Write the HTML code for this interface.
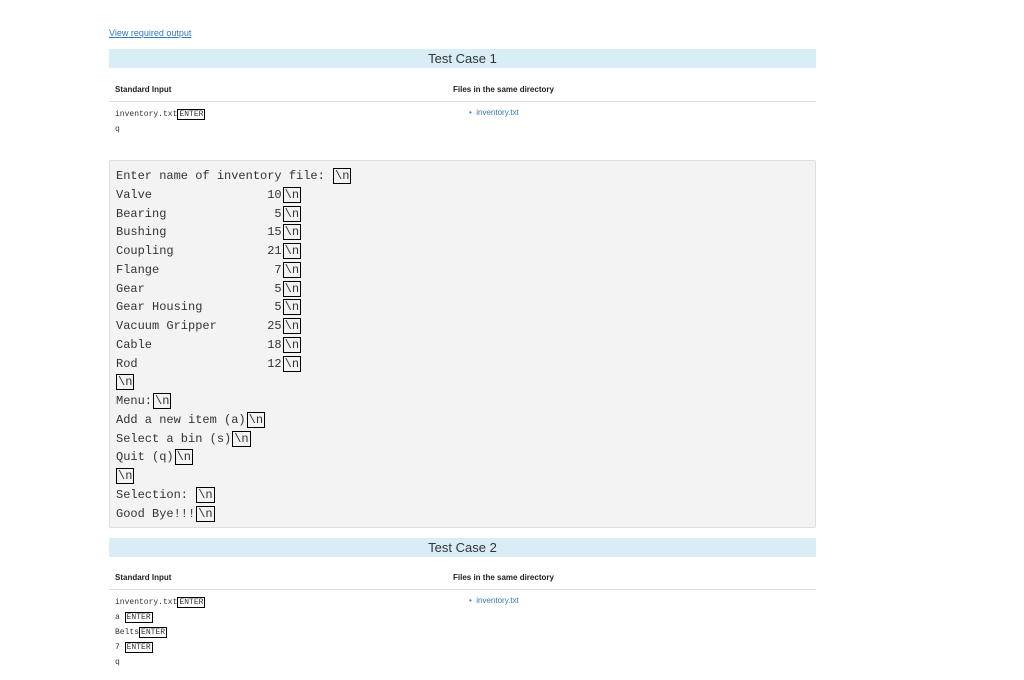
<!DOCTYPE html>
<html><head><meta charset="utf-8"><style>
body{margin:0;width:1024px;height:680px;background:#fff;position:relative;font-family:"Liberation Sans",Arial,sans-serif;overflow:hidden}
.a{position:absolute}
.link{left:109px;top:28px;font-size:9px;color:#337ab7;text-decoration:underline}
.hdr{left:109px;width:707px;height:19px;background:#d9edf7;font-size:13px;color:#333;text-align:center;line-height:19px}
.th{font-size:8px;font-weight:bold;color:#222}
.hr{left:109px;width:707px;height:1px;background:#ddd}
.in{font-family:"Liberation Mono",monospace;font-size:8px;color:#333;line-height:15px}
.k{border:1.3px solid #000;padding:0 1px;line-height:9px;display:inline-block}
.f{font-size:8px;color:#337ab7}
.out{left:109px;top:160px;width:705px;height:366px;background:#f3f3f3;border:1px solid #ddd;border-radius:2px}
pre{position:absolute;left:116px;top:167px;margin:0;font-family:"Liberation Mono",monospace;font-size:12px;line-height:18.75px;color:#333}
.n{border:1.5px solid #000;padding:0 1px;line-height:14px;display:inline-block;margin-left:1px}
</style></head><body>
<div class="a link">View required output</div>
<div class="a hdr" style="top:49px">Test Case 1</div>
<div class="a th" style="left:115px;top:85px">Standard Input</div>
<div class="a th" style="left:453px;top:85px">Files in the same directory</div>
<div class="a hr" style="top:101px"></div>
<div class="a in" style="left:115px;top:107px">inventory.txt<span class="k">ENTER</span><br>q</div>
<div class="a f" style="left:469px;top:108px">• &nbsp;inventory.txt</div>
<div class="a out"></div>
<pre>Enter name of inventory file: <span class="n">\n</span>
Valve                10<span class="n">\n</span>
Bearing               5<span class="n">\n</span>
Bushing              15<span class="n">\n</span>
Coupling             21<span class="n">\n</span>
Flange                7<span class="n">\n</span>
Gear                  5<span class="n">\n</span>
Gear Housing          5<span class="n">\n</span>
Vacuum Gripper       25<span class="n">\n</span>
Cable                18<span class="n">\n</span>
Rod                  12<span class="n">\n</span>
<span class="n" style="margin-left:0">\n</span>
Menu:<span class="n">\n</span>
Add a new item (a)<span class="n">\n</span>
Select a bin (s)<span class="n">\n</span>
Quit (q)<span class="n">\n</span>
<span class="n" style="margin-left:0">\n</span>
Selection: <span class="n">\n</span>
Good Bye!!!<span class="n">\n</span></pre>
<div class="a hdr" style="top:538px">Test Case 2</div>
<div class="a th" style="left:115px;top:573px">Standard Input</div>
<div class="a th" style="left:453px;top:573px">Files in the same directory</div>
<div class="a hr" style="top:589px"></div>
<div class="a in" style="left:115px;top:595px">inventory.txt<span class="k">ENTER</span><br>a <span class="k">ENTER</span><br>Belts<span class="k">ENTER</span><br>7 <span class="k">ENTER</span><br>q</div>
<div class="a f" style="left:469px;top:596px">• &nbsp;inventory.txt</div>
</body></html>
